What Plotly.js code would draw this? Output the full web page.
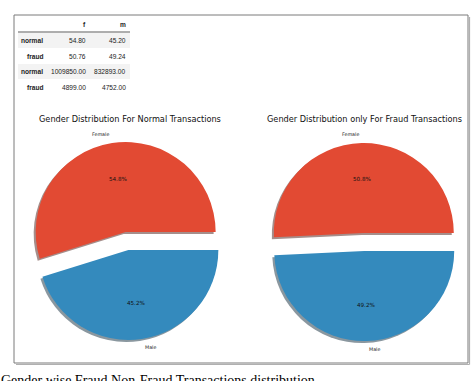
<!DOCTYPE html>
<html>
<head>
<meta charset="utf-8">
<script src="https://cdn.plot.ly/plotly-3.0.1.min.js"></script>
<style>html,body{margin:0;padding:0;background:#fff}#chart{width:474px;height:381px}</style>
</head>
<body>
<div id="chart"></div>
<script>
// ---- data ----
const genders = ["Female", "Male"];
const normalPct = [54.80, 45.20];
const fraudPct = [50.76, 49.24];
const tableIndex = ["normal", "fraud", "normal", "fraud"];
const tableHeader = ["", "f", "m"];
const colF = [54.80, 50.76, 1009850.00, 4899.00];
const colM = [45.20, 49.24, 832893.00, 4752.00];
const titleNormal = "Gender Distribution For Normal Transactions";
const titleFraud = "Gender Distribution only For Fraud Transactions";
const caption = "Gender wise Fraud Non-Fraud Transactions distribution";

// ---- layout helpers ----
const W = 474, H = 381;
const px = x => x / W;
const py = y => 1 - y / H;
const R = 90, PULL = 0.1;
const sliceColors = ["#E24A33", "#348ABD"];
const shadowColors = ["#a58e8b", "#8a979f"];
const pies = [
  {vals: normalPct, cx: 127, cy: 241, title: titleNormal, tx: 130},
  {vals: fraudPct, cx: 364, cy: 242, title: titleFraud, tx: 364}
];

const traces = [];
const annotations = [];
const shapes = [];
const half = R * (1 + PULL);
pies.forEach(p => {
  const total = p.vals.reduce((a, b) => a + b, 0);
  // first slice starts at 3 o'clock and runs counterclockwise (matplotlib startangle=0)
  const rot = 90 - 360 * p.vals[0] / total;
  // shadow
  traces.push({
    type: "pie", labels: genders, values: p.vals, sort: false,
    direction: "counterclockwise", rotation: rot, pull: [PULL, PULL],
    marker: {colors: shadowColors, line: {width: 0}},
    textinfo: "none", hoverinfo: "skip", showlegend: false,
    domain: {x: [px(p.cx - 2 - half), px(p.cx - 2 + half)], y: [py(p.cy + 2 + half), py(p.cy + 2 - half)]}
  });
  traces.push({
    type: "pie", labels: genders, values: p.vals, sort: false,
    direction: "counterclockwise", rotation: rot, pull: [PULL, PULL],
    marker: {colors: sliceColors, line: {width: 0}},
    textinfo: "none", showlegend: false,
    domain: {x: [px(p.cx - half), px(p.cx + half)], y: [py(p.cy + half), py(p.cy - half)]}
  });
  let start = 0;
  p.vals.forEach((v, i) => {
    const sweep = v / total * 360;
    const mid = (start + sweep / 2) * Math.PI / 180;
    start += sweep;
    const c = Math.cos(mid), s = Math.sin(mid);
    annotations.push({
      x: px(p.cx + (PULL + 1.1) * R * c), y: py(p.cy - (PULL + 1.1) * R * s),
      xref: "paper", yref: "paper", showarrow: false,
      xanchor: c > 0 ? "left" : "right", yanchor: "middle",
      text: genders[i], font: {family: "DejaVu Sans", size: 4.8, color: "#222"}
    });
    annotations.push({
      x: px(p.cx + (PULL + 0.6) * R * c), y: py(p.cy - (PULL + 0.6) * R * s),
      xref: "paper", yref: "paper", showarrow: false,
      xanchor: "center", yanchor: "middle",
      text: (v / total * 100).toFixed(1) + "%", font: {family: "DejaVu Sans", size: 5.6, color: "#111"}
    });
  });
  annotations.push({
    x: px(p.tx), y: py(119), xref: "paper", yref: "paper", showarrow: false,
    xanchor: "center", yanchor: "middle", text: p.title,
    font: {family: "DejaVu Sans", size: 8.2, color: "#111"}
  });
});

// ---- table (pandas-style) ----
const tFont = {family: "Liberation Sans", size: 6.6, color: "#222"};
const colRight = [45, 88, 128];
const headerY = 24, rowY0 = 40.5, rowStep = 15.5;
tableHeader.forEach((h, j) => {
  if (!h) return;
  annotations.push({x: px(colRight[j]), y: py(headerY), xref: "paper", yref: "paper", showarrow: false,
    xanchor: "right", yanchor: "middle", text: "<b>" + h + "</b>", font: tFont});
});
tableIndex.forEach((t, i) => {
  const y = rowY0 + i * rowStep;
  if (i % 2 === 0) {
    shapes.push({type: "rect", xref: "paper", yref: "paper", x0: px(18), x1: px(130),
      y0: py(y - 7.5), y1: py(y + 7.5), fillcolor: "#f3f3f3", line: {width: 0}, layer: "below"});
  }
  [ "<b>" + t + "</b>", colF[i].toFixed(2), colM[i].toFixed(2) ].forEach((txt, j) => {
    annotations.push({x: px(colRight[j]), y: py(y), xref: "paper", yref: "paper", showarrow: false,
      xanchor: "right", yanchor: "middle", text: txt, font: tFont});
  });
});

annotations.push({
  x: px(-1), y: py(380), xref: "paper", yref: "paper", showarrow: false,
  xanchor: "left", yanchor: "middle", text: caption,
  font: {family: "Liberation Serif", size: 14, color: "#000"}
});

shapes.push(
  {type: "rect", xref: "paper", yref: "paper", x0: px(14), x1: px(468), y0: py(15), y1: py(363),
   line: {color: "#7a7a7a", width: 1}},
  {type: "line", xref: "paper", yref: "paper", x0: px(469.5), x1: px(469.5), y0: py(17), y1: py(364.5),
   line: {color: "#b0b0b0", width: 1.2}},
  {type: "line", xref: "paper", yref: "paper", x0: px(16), x1: px(469.5), y0: py(364.5), y1: py(364.5),
   line: {color: "#b0b0b0", width: 1.2}},
  {type: "line", xref: "paper", yref: "paper", x0: px(18), x1: px(130), y0: py(32), y1: py(32),
   line: {color: "#333", width: 0.8}}
);

Plotly.newPlot("chart", traces, {
  width: W, height: H, margin: {l: 0, r: 0, t: 0, b: 0},
  paper_bgcolor: "#fff", plot_bgcolor: "#fff",
  showlegend: false, annotations: annotations, shapes: shapes
}, {staticPlot: true, displayModeBar: false});
</script>
</body>
</html>
